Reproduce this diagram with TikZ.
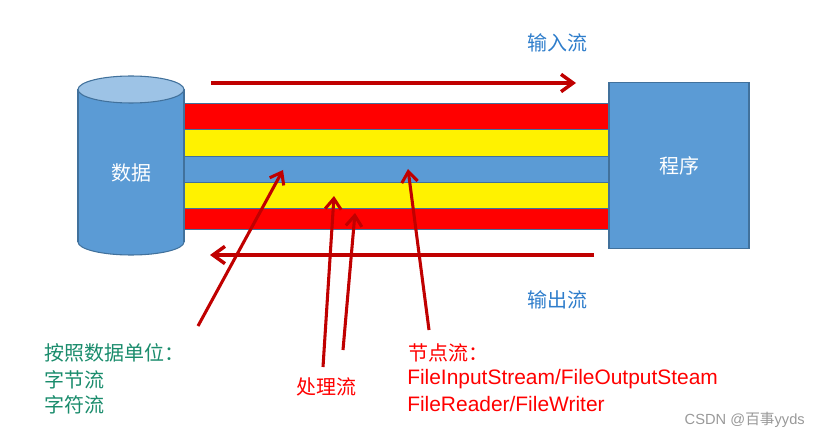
\documentclass[tikz,border=0pt]{standalone}
\usepackage{fontspec}
\setmainfont{Liberation Sans}
\newfontfamily\cjk{Noto Sans CJK SC}
\usetikzlibrary{arrows.meta}

\definecolor{boxblue}{HTML}{5B9BD5}
\definecolor{edgeblue}{HTML}{41719C}
\definecolor{lidblue}{HTML}{9DC3E6}
\definecolor{darkred}{HTML}{C00000}
\definecolor{labelblue}{HTML}{2E7DCB}
\definecolor{unitgreen}{HTML}{1A8C6C}

\tikzset{
  band/.style={draw=edgeblue, line width=0.6pt},
  flow/.style={draw=darkred, line width=2.6pt, -{Straight Barb[length=9pt,width=13pt]}},
  pointer/.style={draw=darkred, line width=2.3pt, -{Straight Barb[length=8pt,width=12pt]}},
  cn/.style={font=\cjk\fontsize{15}{18}\selectfont, inner sep=0pt},
  latin/.style={font=\fontsize{15.7}{18}\selectfont, inner sep=0pt},
}

\begin{document}
\begin{tikzpicture}[x=0.75pt,y=-0.75pt]
\useasboundingbox (0,0) rectangle (816,438);

% pipe
\draw[band, fill=red]     (184,103) rectangle (610,129);
\draw[band, fill=yellow]  (184,129) rectangle (610,156);
\draw[band, fill=boxblue] (184,156) rectangle (610,182);
\draw[band, fill=yellow]  (184,182) rectangle (610,208);
\draw[band, fill=red]     (184,208) rectangle (610,229);

% data cylinder
\draw[edgeblue, line width=0.8pt, fill=boxblue] (131,242) ellipse [x radius=53, y radius=13];
\fill[boxblue] (78,89.5) rectangle (184,242);
\draw[edgeblue, line width=0.8pt] (78,89.5) -- (78,242) (184,89.5) -- (184,242);
\draw[edgeblue, line width=0.8pt, fill=lidblue] (131,89.5) ellipse [x radius=53, y radius=13.5];
\node[cn, text=white] (data) at (131,173) {数据};

% program
\node[draw=edgeblue, fill=boxblue, line width=0.8pt, minimum width=105pt, minimum height=124.5pt,
      cn, text=white] (prog) at (679,165.5) {程序};

% input / output
\coordinate (inS) at (211,83);
\coordinate (inE) at (576,83);
\draw[flow] (inS) -- (inE);
\node[cn, text=labelblue] (inlabel) at (557,43) {输入流};

\coordinate (outS) at (594,255);
\coordinate (outE) at (210,255);
\draw[flow] (outS) -- (outE);
\node[cn, text=labelblue] (outlabel) at (557,300) {输出流};

% pointers
\coordinate (p1) at (198,326); \coordinate (t1) at (283,170);
\coordinate (p2) at (323,367); \coordinate (t2) at (334,196);
\coordinate (p3) at (343,350); \coordinate (t3) at (355,213);
\coordinate (p4) at (429,330); \coordinate (t4) at (408,169);
\draw[pointer] (p1) -- (t1);
\draw[pointer] (p2) -- (t2);
\draw[pointer] (p3) -- (t3);
\draw[pointer] (p4) -- (t4);

% labels
\node[cn, text=unitgreen, anchor=west] (unit) at (44,353) {按照数据单位：};
\node[cn, text=unitgreen, anchor=west] (bytes) at (44,380) {字节流};
\node[cn, text=unitgreen, anchor=west] (chars) at (44,405) {字符流};

\node[cn, text=red] (proc) at (326,387) {处理流};

\node[cn, text=red, anchor=west] (nodeflow) at (408,353) {节点流：};
\node[latin, text=red, anchor=west] (fileio) at (407,379) {FileInputStream/FileOutputSteam};
\node[latin, text=red, anchor=west] (filerw) at (407,404) {FileReader/FileWriter};

\node[font=\fontsize{11}{13}\selectfont, text=gray!80, inner sep=0pt, anchor=east] (mark) at (805,420) {CSDN @{\cjk 百事}yyds};

\end{tikzpicture}
\end{document}
